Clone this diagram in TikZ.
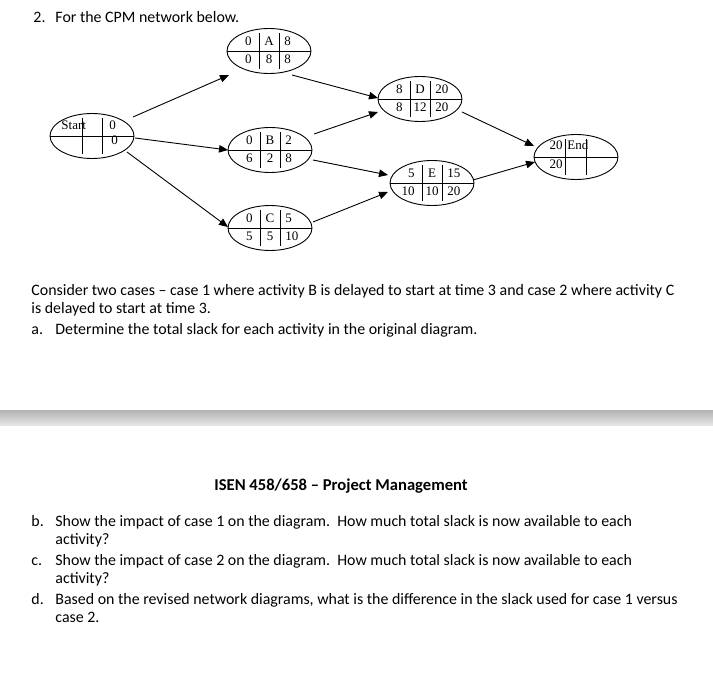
\documentclass[tikz,border=0pt]{standalone}
\usepackage{fontspec}
\setmainfont{Carlito}
\newfontfamily\timesfont{Liberation Serif}
\usetikzlibrary{arrows.meta,shapes.geometric,calc}

% one activity: name, x, y, ES, label, EF, LS, duration, LF
\newcommand{\actbox}[9]{%
  \node[actv] (#1) at (#2,#3) {};
  \draw (#1.west) -- (#1.east);
  \draw ($(#1)+(-10,-18)$) -- ($(#1)+(-10,18)$);
  \draw ($(#1)+(10,-18)$) -- ($(#1)+(10,18)$);
  \node[cell, anchor=base east] (#1-es) at ($(#1)+(-17,-6)$) {#4};
  \node[cell, anchor=base] (#1-nm) at ($(#1)+(0,-6)$) {#5};
  \node[cell, anchor=base west] (#1-ef) at ($(#1)+(15,-6)$) {#6};
  \node[cell, anchor=base east] (#1-ls) at ($(#1)+(-17,12.5)$) {#7};
  \node[cell, anchor=base] (#1-du) at ($(#1)+(0,12.5)$) {#8};
  \node[cell, anchor=base west] (#1-lf) at ($(#1)+(15,12.5)$) {#9};
}

\begin{document}
\begin{tikzpicture}[x=1pt,y=-1pt,line width=0.9pt,
  actv/.style={ellipse,draw,minimum width=84pt,minimum height=45pt,inner sep=0pt},
  cell/.style={inner sep=0pt,font=\timesfont\fontsize{13}{13}\selectfont},
  txt/.style={anchor=base west,inner sep=0pt,font=\fontsize{15.9}{18}\selectfont},
  arr/.style={-{Triangle[length=9pt,width=7.5pt]}}]
\useasboundingbox (0,0) rectangle (713,699);

% question text
\node[txt] (qnum) at (33,22) {2.};
\node[txt] (qtext) at (55,22) {For the CPM network below.};

% start and finish
\node[actv] (start) at (92,136) {};
\draw (start.west) -- (start.east);
\draw ($(start)+(-10,-18)$) -- ($(start)+(-10,18)$);
\draw ($(start)+(10,-18)$) -- ($(start)+(10,18)$);
\node[cell, anchor=base west] (start-nm) at ($(start)+(-31,-7)$) {Start};
\node[cell, anchor=base west] (start-es) at ($(start)+(17,-7)$) {0};
\node[cell, anchor=base west] (start-ls) at ($(start)+(19,8)$) {0};

\node[actv] (finish) at (576,157) {};
\draw (finish.west) -- (finish.east);
\draw ($(finish)+(-11,-18)$) -- ($(finish)+(-11,18)$);
\draw ($(finish)+(10,-18)$) -- ($(finish)+(10,18)$);
\node[cell, anchor=base east] (finish-es) at ($(finish)+(-13,-8)$) {20};
\node[cell, anchor=base west] (finish-nm) at ($(finish)+(-9,-8)$) {End};
\node[cell, anchor=base east] (finish-ls) at ($(finish)+(-13,11)$) {20};

% activities
\actbox{A}{269}{51}{0}{A}{8}{0}{8}{8}
\actbox{B}{270}{150}{0}{B}{2}{6}{2}{8}
\actbox{C}{270}{228}{0}{C}{5}{5}{5}{10}
\actbox{D}{420}{99}{8}{D}{20}{8}{12}{20}
\actbox{E}{432}{183}{5}{E}{15}{10}{10}{20}

% arrows
\draw[arr] ($(start)+(41,-19)$) -- ($(A)+(-40,24)$);
\draw[arr] ($(start)+(43,2)$) -- ($(B)+(-42,0)$);
\draw[arr] ($(start)+(35,16)$) -- ($(C)+(-42,-1)$);
\draw[arr] ($(A)+(23,24)$) -- ($(D)+(-42,-1)$);
\draw[arr] ($(B)+(44,-16)$) -- ($(D)+(-42,13)$);
\draw[arr] ($(B)+(43,10)$) -- ($(E)+(-44,-8)$);
\draw[arr] ($(C)+(43,-6)$) -- ($(E)+(-44,9)$);
\draw[arr] ($(D)+(42,13)$) -- ($(finish)+(-42,-11)$);
\draw[arr] ($(E)+(41,-3)$) -- ($(finish)+(-41,5)$);

% cases
\node[txt] (cases1) at (31,295) {Consider two cases – case 1 where activity B is delayed to start at time 3 and case 2 where activity C};
\node[txt] (cases2) at (31,313) {is delayed to start at time 3.};
\node[txt] (pa) at (31,334) {a.};
\node[txt] (pat) at (55,334) {Determine the total slack for each activity in the original diagram.};

% grey bar
\shade[top color=black!30,bottom color=black!10] (0,410) rectangle (713,425);

\node[txt, anchor=base, font=\bfseries\fontsize{16.6}{18}\selectfont] (head) at (341,490) {ISEN 458/658 – Project Management};

\node[txt] (pb) at (31,526) {b.};
\node[txt] (pbt) at (55,526) {Show the impact of case 1 on the diagram.\ \ How much total slack is now available to each};
\node[txt] (pbt2) at (55,544) {activity?};
\node[txt] (pc) at (31,565) {c.};
\node[txt] (pct) at (55,565) {Show the impact of case 2 on the diagram.\ \ How much total slack is now available to each};
\node[txt] (pct2) at (55,583) {activity?};
\node[txt] (pd) at (31,604) {d.};
\node[txt] (pdt) at (55,604) {Based on the revised network diagrams, what is the difference in the slack used for case 1 versus};
\node[txt] (pdt2) at (55,622) {case 2.};
\end{tikzpicture}
\end{document}
